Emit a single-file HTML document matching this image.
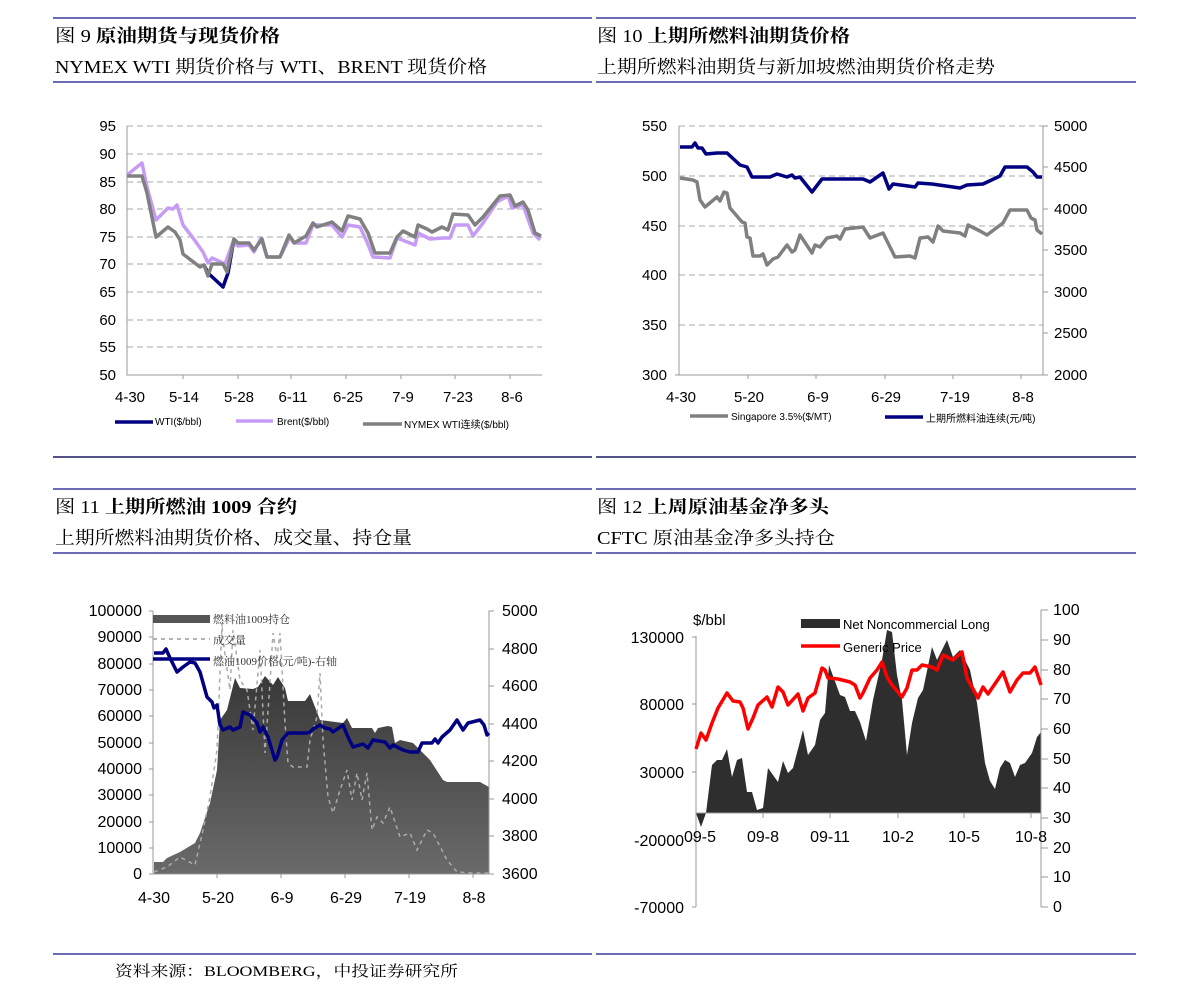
<!DOCTYPE html>
<html><head><meta charset="utf-8"><style>
body{margin:0;background:#fff;}
svg{display:block;}
.h{font-family:"Liberation Serif","Noto Serif CJK SC",serif;font-size:18px;fill:#000;}
.a{font-family:"Liberation Sans","Noto Sans CJK SC",sans-serif;font-size:15px;fill:#000;}
.b{font-size:16px;}
.l{font-family:"Liberation Sans","Noto Sans CJK SC",sans-serif;font-size:10px;fill:#000;}
.ls{font-family:"Liberation Serif","Noto Serif CJK SC",serif;font-size:11px;fill:#333;}
.g{stroke:#aaa;stroke-dasharray:6,4;stroke-width:1;}
.ax{stroke:#999;stroke-width:1;fill:none;}
</style></head><body>
<svg width="1191" height="1001" viewBox="0 0 1191 1001" xmlns="http://www.w3.org/2000/svg">
<defs><linearGradient id="gr" x1="0" y1="0" x2="0" y2="1"><stop offset="0" stop-color="#383838"/><stop offset="1" stop-color="#6a6a6a"/></linearGradient></defs>
<g stroke="#3b3b9c" stroke-width="1.5">
<line x1="53" y1="18" x2="592" y2="18"/><line x1="596" y1="18" x2="1136" y2="18"/>
<line x1="53" y1="82" x2="592" y2="82"/><line x1="596" y1="82" x2="1136" y2="82"/>
<line x1="53" y1="457" x2="592" y2="457" stroke="#1a1a60"/><line x1="596" y1="457" x2="1136" y2="457" stroke="#1a1a60"/>
<line x1="53" y1="489" x2="592" y2="489"/><line x1="596" y1="489" x2="1136" y2="489"/>
<line x1="53" y1="553" x2="592" y2="553"/><line x1="596" y1="553" x2="1136" y2="553"/>
<line x1="53" y1="954" x2="592" y2="954"/><line x1="596" y1="954" x2="1136" y2="954"/>
</g>
<text class="h" x="55" y="42" textLength="225" lengthAdjust="spacingAndGlyphs">图 9  <tspan font-weight="bold">原油期货与现货价格</tspan></text>
<text class="h" x="55" y="73" textLength="432" lengthAdjust="spacingAndGlyphs">NYMEX WTI 期货价格与 WTI、BRENT 现货价格</text>
<text class="h" x="597" y="42" textLength="253" lengthAdjust="spacingAndGlyphs">图 10  <tspan font-weight="bold">上期所燃料油期货价格</tspan></text>
<text class="h" x="597" y="73" textLength="398" lengthAdjust="spacingAndGlyphs">上期所燃料油期货与新加坡燃油期货价格走势</text>
<text class="h" x="55" y="513" textLength="242" lengthAdjust="spacingAndGlyphs">图 11  <tspan font-weight="bold">上期所燃油 1009 合约</tspan></text>
<text class="h" x="55" y="544" textLength="357" lengthAdjust="spacingAndGlyphs">上期所燃料油期货价格、成交量、持仓量</text>
<text class="h" x="597" y="513" textLength="232" lengthAdjust="spacingAndGlyphs">图 12  <tspan font-weight="bold">上周原油基金净多头</tspan></text>
<text class="h" x="597" y="544" textLength="238" lengthAdjust="spacingAndGlyphs">CFTC  原油基金净多头持仓</text>
<text class="h" x="115" y="976" style="font-size:15px" textLength="343" lengthAdjust="spacingAndGlyphs">资料来源：BLOOMBERG，中投证券研究所</text>

<!-- Chart 1 -->
<g>
<line class="g" x1="127" y1="126" x2="542" y2="126"/><line class="g" x1="127" y1="154" x2="542" y2="154"/>
<line class="g" x1="127" y1="182" x2="542" y2="182"/><line class="g" x1="127" y1="209" x2="542" y2="209"/>
<line class="g" x1="127" y1="237" x2="542" y2="237"/><line class="g" x1="127" y1="264" x2="542" y2="264"/>
<line class="g" x1="127" y1="292" x2="542" y2="292"/><line class="g" x1="127" y1="320" x2="542" y2="320"/>
<line class="g" x1="127" y1="347" x2="542" y2="347"/>
<path class="ax" d="M127,126V375H542M183,375v4M238,375v4M291,375v4M346,375v4M401,375v4M455,375v4M510,375v4"/>
<g class="a" text-anchor="end"><text x="116" y="131">95</text><text x="116" y="159">90</text><text x="116" y="187">85</text><text x="116" y="214">80</text><text x="116" y="242">75</text><text x="116" y="269">70</text><text x="116" y="297">65</text><text x="116" y="325">60</text><text x="116" y="352">55</text><text x="116" y="380">50</text></g>
<g class="a" text-anchor="middle"><text x="130" y="402">4-30</text><text x="184" y="402">5-14</text><text x="239" y="402">5-28</text><text x="293" y="402">6-11</text><text x="348" y="402">6-25</text><text x="403" y="402">7-9</text><text x="458" y="402">7-23</text><text x="512" y="402">8-6</text></g>
<polyline fill="none" stroke="#c69cf5" stroke-width="3.5" stroke-linejoin="round" points="127,175 142,163 147,187 156,220 168,208 173,209 177,205 183,225 193,238 203,252 208,263 212,258 225,264 233,242 238,246 249,245 254,252 261,238 267,257 280,257 290,237 295,243 306,243 313,225 332,225 342,237 348,225 360,227 367,242 373,257 390,258 397,238 415,245 418,233 430,239 443,238 450,238 455,225 468,225 473,236 483,223 497,202 508,196 512,208 523,205 533,233 540,240"/>
<polyline fill="none" stroke="#000080" stroke-width="3.5" stroke-linejoin="round" points="204,265 208,273 223,287 228,273 234,239"/>
<polyline fill="none" stroke="#808080" stroke-width="3.5" stroke-linejoin="round" points="127,176 142,176 147,193 156,237 168,227 175,232 180,240 183,254 200,267 204,265 208,276 212,264 223,264 227,272 234,239 238,243 249,243 254,250 262,239 267,257 280,257 289,235 294,243 306,236 313,223 317,227 332,222 342,231 348,216 360,219 368,233 375,253 390,253 397,237 403,231 415,237 418,225 427,229 432,232 442,227 448,230 453,214 468,215 475,225 483,217 500,196 510,195 515,206 523,202 528,210 535,233 541,236"/>
<line x1="115" y1="422" x2="153" y2="422" stroke="#000080" stroke-width="3.5"/><text class="l" x="155" y="425">WTI($/bbl)</text>
<line x1="236" y1="421" x2="273" y2="421" stroke="#c69cf5" stroke-width="3.5"/><text class="l" x="277" y="425">Brent($/bbl)</text>
<line x1="363" y1="424" x2="402" y2="424" stroke="#808080" stroke-width="3.5"/><text class="l" x="404" y="428">NYMEX WTI连续($/bbl)</text>
</g>

<!-- Chart 2 -->
<g>
<line class="g" x1="679" y1="126" x2="1043" y2="126"/><line class="g" x1="679" y1="176" x2="1043" y2="176"/>
<line class="g" x1="679" y1="226" x2="1043" y2="226"/><line class="g" x1="679" y1="275" x2="1043" y2="275"/>
<line class="g" x1="679" y1="325" x2="1043" y2="325"/>
<path class="ax" d="M679,126V375H1043V126M675,375h4M1043,126h5M1043,167h5M1043,209h5M1043,250h5M1043,292h5M1043,333h5M1043,375h5M748,375v4M816,375v4M885,375v4M953,375v4M1021,375v4"/>
<g class="a" text-anchor="end"><text x="667" y="131">550</text><text x="667" y="181">500</text><text x="667" y="231">450</text><text x="667" y="280">400</text><text x="667" y="330">350</text><text x="667" y="380">300</text></g>
<g class="a"><text x="1054" y="131">5000</text><text x="1054" y="172">4500</text><text x="1054" y="214">4000</text><text x="1054" y="255">3500</text><text x="1054" y="297">3000</text><text x="1054" y="338">2500</text><text x="1054" y="380">2000</text></g>
<g class="a" text-anchor="middle"><text x="681" y="402">4-30</text><text x="749" y="402">5-20</text><text x="818" y="402">6-9</text><text x="886" y="402">6-29</text><text x="955" y="402">7-19</text><text x="1023" y="402">8-8</text></g>
<polyline fill="none" stroke="#808080" stroke-width="3.5" stroke-linejoin="round" points="680,178 693,180 697,182 700,200 705,207 717,197 720,201 724,192 727,193 730,208 742,222 745,223 747,237 750,238 753,256 760,256 763,254 767,265 773,259 778,257 787,245 792,252 795,250 800,235 812,253 815,245 820,247 827,238 837,236 840,239 845,229 863,227 870,238 883,233 888,243 895,257 910,256 915,258 920,238 928,237 933,242 938,226 943,231 960,233 965,236 968,225 980,231 987,235 1003,223 1010,210 1027,210 1031,218 1035,220 1037,230 1042,234"/>
<polyline fill="none" stroke="#000080" stroke-width="3.5" stroke-linejoin="round" points="680,147 692,147 695,143 698,148 702,148 706,154 717,153 727,153 740,165 747,167 752,177 770,177 777,174 787,177 792,175 795,178 800,177 812,192 822,179 843,179 863,179 870,182 883,173 889,189 893,184 908,186 915,187 918,183 932,184 960,188 967,185 983,184 1000,176 1005,167 1027,167 1033,172 1037,177 1042,177"/>
<line x1="690" y1="416" x2="728" y2="416" stroke="#808080" stroke-width="3.5"/><text class="l" x="731" y="420">Singapore 3.5%($/MT)</text>
<line x1="885" y1="417" x2="923" y2="417" stroke="#000080" stroke-width="3.5"/><text class="l" x="926" y="422">上期所燃料油连续(元/吨)</text>
</g>

<!-- Chart 3 -->
<g>
<polygon fill="url(#gr)" points="154,862 163,862 167,858 180,852 195,843 200,833 210,803 217,770 220,720 227,710 235,678 240,688 253,689 258,687 265,676 273,685 278,677 285,688 288,701 305,701 310,694 320,720 343,723 347,718 352,728 372,728 375,733 378,728 388,726 392,727 395,743 400,740 413,743 430,760 443,780 447,782 480,782 489,787 489,874 154,874"/>
<polyline fill="none" stroke="#aaa" stroke-width="1.5" stroke-dasharray="4,4" points="154,872 167,867 180,857 195,865 203,830 210,797 217,750 220,673 222,623 223,640 230,690 233,630 240,680 247,690 253,730 260,650 265,753 270,683 273,633 277,657 280,633 285,723 288,763 293,767 307,767 310,740 317,717 320,673 323,740 328,797 333,813 340,790 347,770 352,800 357,773 362,800 367,773 372,830 377,817 383,823 390,807 400,837 410,833 417,850 427,830 433,833 447,860 457,872 473,873 489,873"/>
<path class="ax" d="M153,611V874H489M149,611h4M149,637h4M149,664h4M149,690h4M149,716h4M149,743h4M149,769h4M149,795h4M149,822h4M149,848h4M149,874h4M489,874V611h5M489,649h5M489,686h5M489,724h5M489,761h5M489,799h5M489,836h5M489,874h5M217,874v4M281,874v4M345,874v4M409,874v4M473,874v4"/>
<g class="a b" text-anchor="end"><text x="142" y="616">100000</text><text x="142" y="642">90000</text><text x="142" y="669">80000</text><text x="142" y="695">70000</text><text x="142" y="721">60000</text><text x="142" y="748">50000</text><text x="142" y="774">40000</text><text x="142" y="800">30000</text><text x="142" y="827">20000</text><text x="142" y="853">10000</text><text x="142" y="879">0</text></g>
<g class="a b"><text x="502" y="616">5000</text><text x="502" y="654">4800</text><text x="502" y="691">4600</text><text x="502" y="729">4400</text><text x="502" y="766">4200</text><text x="502" y="804">4000</text><text x="502" y="841">3800</text><text x="502" y="879">3600</text></g>
<g class="a b" text-anchor="middle"><text x="154" y="903">4-30</text><text x="218" y="903">5-20</text><text x="282" y="903">6-9</text><text x="346" y="903">6-29</text><text x="410" y="903">7-19</text><text x="474" y="903">8-8</text></g>
<rect x="153" y="615" width="57" height="8" fill="#555"/><text class="ls" x="213" y="623">燃料油1009持仓</text>
<line x1="153" y1="639" x2="210" y2="639" stroke="#999" stroke-width="1.5" stroke-dasharray="4,4"/><text class="ls" x="213" y="644">成交量</text>
<polyline fill="none" stroke="#000080" stroke-width="3.5" stroke-linejoin="round" points="154,653 163,653 166,649 170,658 177,672 183,667 190,662 195,663 200,672 207,697 212,702 214,708 217,705 220,725 223,730 230,727 233,730 240,727 243,712 250,715 257,723 260,732 263,727 268,737 275,760 277,757 282,740 288,733 307,733 310,732 313,729 320,725 325,728 330,729 333,732 343,725 348,737 353,747 363,744 368,748 373,740 385,742 390,748 393,745 403,750 410,752 418,752 422,743 432,743 435,739 438,743 442,737 450,730 457,720 463,730 468,723 480,720 484,725 487,735 489,733"/>
<line x1="153" y1="659" x2="210" y2="659" stroke="#000080" stroke-width="3.5"/><text class="ls" x="213" y="665">燃油1009价格(元/吨)-右轴</text>
</g>

<!-- Chart 4 -->
<g>
<polygon fill="#2e2e2e" points="696,813 701,827 706,813 712,765 717,760 722,760 727,749 732,777 737,760 742,758 747,792 752,792 757,810 763,808 768,768 778,782 783,761 788,773 793,768 803,730 808,755 815,745 820,720 825,713 829,665 840,695 845,697 850,711 855,711 860,722 866,741 873,700 882,660 887,630 892,632 897,675 902,700 907,755 912,723 918,698 923,690 932,647 937,660 947,640 953,657 960,650 970,670 977,703 985,763 990,781 995,789 1000,768 1005,760 1010,763 1015,777 1020,765 1025,763 1032,753 1037,737 1041,732 1041,813"/>
<path class="ax" d="M696,636V907M692,637h4M692,704h4M692,772h4M692,839h4M692,907h4M696,813H1041M763,813v5M830,813v5M898,813v5M964,813v5M1031,813v5M1041,610V907M1041,610h7M1041,640h7M1041,670h7M1041,699h7M1041,729h7M1041,759h7M1041,788h7M1041,818h7M1041,848h7M1041,877h7M1041,907h7"/>
<polyline fill="none" stroke="#ff0000" stroke-width="3.5" stroke-linejoin="round" points="696,749 701,733 706,740 712,723 718,708 727,693 733,701 740,702 743,708 748,729 753,718 758,705 767,697 772,707 778,687 783,692 788,705 798,694 803,711 808,698 815,693 822,668 825,670 828,678 838,679 850,682 855,685 860,698 863,693 870,678 877,670 882,662 887,677 892,685 902,697 907,688 912,670 917,670 922,665 932,667 937,670 943,655 953,660 962,652 967,678 978,698 983,687 988,694 1003,672 1010,692 1017,680 1023,673 1030,673 1035,667 1041,685"/>
<g class="a b" text-anchor="end"><text x="684" y="643">130000</text><text x="684" y="710">80000</text><text x="684" y="778">30000</text><text x="684" y="846">-20000</text><text x="684" y="913">-70000</text></g>
<g class="a b"><text x="1053" y="615">100</text><text x="1053" y="645">90</text><text x="1053" y="675">80</text><text x="1053" y="704">70</text><text x="1053" y="734">60</text><text x="1053" y="764">50</text><text x="1053" y="793">40</text><text x="1053" y="823">30</text><text x="1053" y="853">20</text><text x="1053" y="882">10</text><text x="1053" y="912">0</text></g>
<g class="a b" text-anchor="middle"><text x="700" y="842">09-5</text><text x="763" y="842">09-8</text><text x="830" y="842">09-11</text><text x="898" y="842">10-2</text><text x="964" y="842">10-5</text><text x="1031" y="842">10-8</text></g>
<text class="a" x="693" y="625">$/bbl</text>
<rect x="801" y="619" width="39" height="9" fill="#2e2e2e"/><text class="a" x="843" y="629" style="font-size:13px">Net Noncommercial Long</text>
<line x1="801" y1="646" x2="840" y2="646" stroke="#ff0000" stroke-width="3.5"/><text class="a" x="843" y="652" style="font-size:13px">Generic Price</text>
</g>
</svg>
</body></html>
